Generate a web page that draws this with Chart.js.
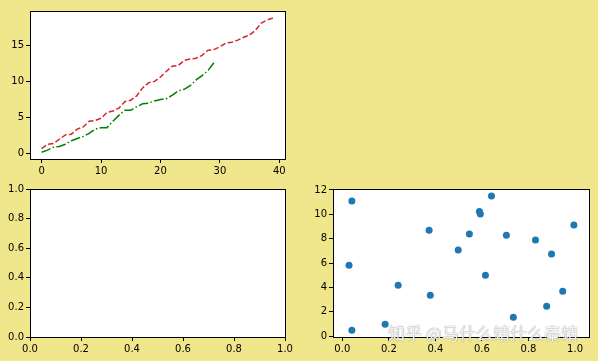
<!DOCTYPE html>
<html><head><meta charset="utf-8">
<script src="https://cdn.jsdelivr.net/npm/chart.js@4"></script>
<style>
html,body{margin:0;padding:0;background:#f0e68c;width:598px;height:361px;overflow:hidden;}
canvas{position:absolute;}
#wm{position:absolute;left:388px;top:323px;font-family:"Noto Sans CJK SC";font-size:17px;line-height:20px;white-space:nowrap;color:rgba(255,255,255,0.9);
text-shadow:0 0 1px rgba(120,120,120,0.8),0 0 1px rgba(120,120,120,0.6);}
</style></head><body>
<canvas id="c1" width="300" height="180" style="left:0;top:0"></canvas>
<canvas id="c2" width="300" height="181" style="left:0;top:180px"></canvas>
<canvas id="c3" width="298" height="181" style="left:300px;top:180px"></canvas>
<div id="wm">知乎 @马什么靖什么秦靖</div>
<script>
// ---- data ----
const redValues = [0.7,1.3,1.4,2.0,2.6,2.7,3.4,3.7,4.5,4.6,4.9,5.7,5.9,6.3,7.2,7.4,8.0,9.1,9.8,10.0,
  10.6,11.4,12.1,12.2,12.9,13.1,13.2,13.6,14.3,14.4,14.8,15.3,15.4,15.7,16.1,16.4,17.1,18.1,18.5,18.8];
const greenValues = [0.2,0.5,0.9,1.0,1.3,1.8,2.1,2.4,2.8,3.4,3.6,3.6,4.5,5.3,6.0,6.0,6.5,6.9,7.0,7.3,
  7.5,7.6,8.1,8.7,8.9,9.4,10.2,10.8,11.5,12.6];
const scatterX = [0.041,0.029,0.041,0.184,0.240,0.373,0.378,0.498,0.546,0.589,0.593,0.615,0.641,0.705,0.735,0.830,0.878,0.899,0.947,0.995];
const scatterY = [11.09,5.82,0.47,0.96,4.18,8.70,3.35,7.06,8.38,10.24,10.02,5.00,11.50,8.29,1.54,7.88,2.45,6.73,3.68,9.12];
const lineXTicks = [0,10,20,30,40];
const lineYTicks = [0,5,10,15];
const unitTicks = [0,0.2,0.4,0.6,0.8,1.0];
const scatYTicks = [0,2,4,6,8,10,12];

const frame = {
  id:'frame',
  beforeDraw(c){const a=c.chartArea,x=c.ctx;x.save();x.fillStyle='#fff';x.fillRect(a.left,a.top,a.right-a.left,a.bottom-a.top);x.restore();},
  afterDraw(c){const a=c.chartArea,x=c.ctx;x.save();x.strokeStyle='#000';x.lineWidth=1;
    x.strokeRect(Math.round(a.left)+0.5,Math.round(a.top)+0.5,Math.round(a.right-a.left),Math.round(a.bottom-a.top));x.restore();}
};

function axis(min,max,ticks,fmt,fit){
  return {
    type:'linear',min:min,max:max,
    afterBuildTicks:s=>{s.ticks=ticks.map(v=>({value:v}));},
    afterFit:fit,
    grid:{drawOnChartArea:false,drawTicks:true,tickLength:4,color:'#000',lineWidth:1},
    border:{display:true,color:'#000',width:1},
    ticks:{font:{family:'DejaVu Sans',size:10},color:'#000',padding:2,maxRotation:0,autoSkip:false,callback:v=>fmt(v)}
  };
}
function opts(c){
  return {
    responsive:false,animation:false,
    layout:{padding:{top:c.pt,right:c.pr,left:0,bottom:0}},
    plugins:{legend:{display:false},tooltip:{enabled:false}},
    scales:{
      x:axis(c.xmin,c.xmax,c.xt,c.xf,s=>{s.height=c.xh;}),
      y:axis(c.ymin,c.ymax,c.yt,c.yf,s=>{s.width=c.yw;})
    }
  };
}
const intF=v=>String(v), decF=v=>v.toFixed(1);

new Chart(document.getElementById('c1'),{
  type:'line',
  data:{datasets:[
    {data:redValues.map((v,i)=>({x:i,y:v})),borderColor:'#d62728',borderWidth:1.5,borderDash:[5.5,2.4],pointRadius:0,tension:0,fill:false},
    {data:greenValues.map((v,i)=>({x:i,y:v})),borderColor:'#008000',borderWidth:1.5,borderDash:[9.6,2.4,1.5,2.4],pointRadius:0,tension:0,fill:false}
  ]},
  options:opts({pt:11,pr:15,xh:21,yw:30,xmin:-1.95,xmax:40.95,xt:lineXTicks,xf:intF,ymin:-0.73,ymax:19.73,yt:lineYTicks,yf:intF}),
  plugins:[frame]
});

new Chart(document.getElementById('c2'),{
  type:'scatter',
  data:{datasets:[]},
  options:opts({pt:9,pr:15,xh:24,yw:30,xmin:0,xmax:1,xt:unitTicks,xf:decF,ymin:0,ymax:1,yt:unitTicks,yf:decF}),
  plugins:[frame]
});

new Chart(document.getElementById('c3'),{
  type:'scatter',
  data:{datasets:[{data:scatterX.map((x,i)=>({x:x,y:scatterY[i]})),backgroundColor:'#1f77b4',borderWidth:0,pointRadius:3.5}]},
  options:opts({pt:9,pr:9,xh:24,yw:33,xmin:-0.04,xmax:1.06,xt:unitTicks,xf:decF,ymin:-0.08,ymax:12.08,yt:scatYTicks,yf:intF}),
  plugins:[frame]
});
</script>
</body></html>
